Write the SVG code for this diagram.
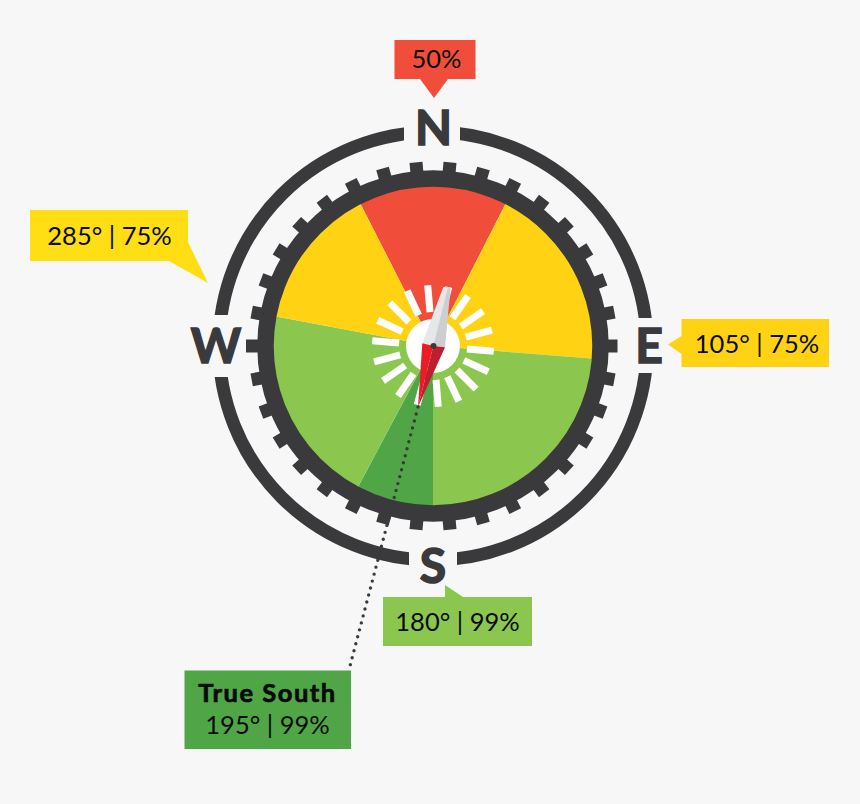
<svg xmlns="http://www.w3.org/2000/svg" xmlns:xlink="http://www.w3.org/1999/xlink" width="860" height="804" viewBox="0 0 860 804">
<style>
.t{font-family:"Lato","Liberation Sans",sans-serif;font-size:25.5px;fill:#0a0a0a;text-anchor:middle}
.b{font-weight:700;stroke:#0a0a0a;stroke-width:.7px;letter-spacing:1.5px}
.c{font-family:"Lato","Liberation Sans",sans-serif;font-weight:700;font-size:48px;fill:#3a3a3c;stroke:#3a3a3c;stroke-width:1.6px;text-anchor:middle}
.tick{fill:#3a3a3c}
.ray{fill:#fff}
</style>
<defs>
<rect id="tk" class="tick" x="426.5" y="161.5" width="13" height="12"/>
<rect id="ry" class="ray" x="429.5" y="285" width="7" height="27"/>
<clipPath id="gaps"><path clip-rule="evenodd" d="M0 0H860V804H0ZM404 90H460V160H404ZM409 530H457V600H409ZM190 315H250V377H190ZM620 318H680V373H620Z"/></clipPath>
</defs>
<rect width="860" height="804" fill="#f7f7f7"/>
<g id="dial">
<path fill="#f04e3b" d="M433 346L358 199A165 165 0 0 1 508 199Z"/>
<path fill="#ffd314" d="M433 346L508 199A165 165 0 0 1 597.5 359Z"/>
<path fill="#8bc74f" d="M433 346L597.5 359A165 165 0 0 1 433 511Z"/>
<path fill="#50a647" d="M433 346L433 511A165 165 0 0 1 355.5 491.7Z"/>
<path fill="#8bc74f" d="M433 346L355.5 491.7A165 165 0 0 1 271 315.4Z"/>
<path fill="#ffd314" d="M433 346L271 315.4A165 165 0 0 1 358 199Z"/>
<circle cx="433" cy="346" r="167.5" fill="none" stroke="#3a3a3c" stroke-width="16.5"/>
<circle cx="433" cy="346" r="214" fill="none" stroke="#3a3a3c" stroke-width="13" clip-path="url(#gaps)"/>
<g id="ticks">
<rect class="tick" x="246" y="339.5" width="14" height="13"/>
<use xlink:href="#tk" transform="rotate(5.29 433 346)"/><use xlink:href="#tk" transform="rotate(15.88 433 346)"/><use xlink:href="#tk" transform="rotate(26.47 433 346)"/><use xlink:href="#tk" transform="rotate(37.06 433 346)"/><use xlink:href="#tk" transform="rotate(47.65 433 346)"/><use xlink:href="#tk" transform="rotate(58.24 433 346)"/><use xlink:href="#tk" transform="rotate(68.82 433 346)"/><use xlink:href="#tk" transform="rotate(79.41 433 346)"/><use xlink:href="#tk" transform="rotate(90 433 346)"/><use xlink:href="#tk" transform="rotate(100.59 433 346)"/><use xlink:href="#tk" transform="rotate(111.18 433 346)"/><use xlink:href="#tk" transform="rotate(121.76 433 346)"/><use xlink:href="#tk" transform="rotate(132.35 433 346)"/><use xlink:href="#tk" transform="rotate(142.94 433 346)"/><use xlink:href="#tk" transform="rotate(153.53 433 346)"/><use xlink:href="#tk" transform="rotate(164.12 433 346)"/><use xlink:href="#tk" transform="rotate(174.71 433 346)"/><use xlink:href="#tk" transform="rotate(185.29 433 346)"/><use xlink:href="#tk" transform="rotate(195.88 433 346)"/><use xlink:href="#tk" transform="rotate(206.47 433 346)"/><use xlink:href="#tk" transform="rotate(217.06 433 346)"/><use xlink:href="#tk" transform="rotate(227.65 433 346)"/><use xlink:href="#tk" transform="rotate(238.24 433 346)"/><use xlink:href="#tk" transform="rotate(248.82 433 346)"/><use xlink:href="#tk" transform="rotate(259.41 433 346)"/><use xlink:href="#tk" transform="rotate(280.59 433 346)"/><use xlink:href="#tk" transform="rotate(291.18 433 346)"/><use xlink:href="#tk" transform="rotate(301.76 433 346)"/><use xlink:href="#tk" transform="rotate(312.35 433 346)"/><use xlink:href="#tk" transform="rotate(322.94 433 346)"/><use xlink:href="#tk" transform="rotate(333.53 433 346)"/><use xlink:href="#tk" transform="rotate(344.12 433 346)"/><use xlink:href="#tk" transform="rotate(354.71 433 346)"/>
</g>
<g id="rays">
<circle cx="433" cy="346" r="27" fill="#fff"/>
<use xlink:href="#ry" transform="rotate(355 433 346)"/><use xlink:href="#ry" transform="rotate(15 433 346)"/><use xlink:href="#ry" transform="rotate(35 433 346)"/><use xlink:href="#ry" transform="rotate(55 433 346)"/><use xlink:href="#ry" transform="rotate(75 433 346)"/><use xlink:href="#ry" transform="rotate(95 433 346)"/><use xlink:href="#ry" transform="rotate(115 433 346)"/><use xlink:href="#ry" transform="rotate(135 433 346)"/><use xlink:href="#ry" transform="rotate(155 433 346)"/><use xlink:href="#ry" transform="rotate(175 433 346)"/><use xlink:href="#ry" transform="rotate(195 433 346)"/><use xlink:href="#ry" transform="rotate(215 433 346)"/><use xlink:href="#ry" transform="rotate(235 433 346)"/><use xlink:href="#ry" transform="rotate(255 433 346)"/><use xlink:href="#ry" transform="rotate(275 433 346)"/><use xlink:href="#ry" transform="rotate(295 433 346)"/><use xlink:href="#ry" transform="rotate(315 433 346)"/><use xlink:href="#ry" transform="rotate(335 433 346)"/>
</g>
</g>
<g id="connectors">
<line x1="418" y1="407" x2="350" y2="666" stroke="#3a3a3c" stroke-width="3.4" stroke-linecap="round" stroke-dasharray="0 7.2"/>
</g>
<g id="needle">
<path fill="#e6e7e8" d="M443.3 287L448 287L435 346L422.3 343.3Z"/>
<path fill="#cdced0" d="M448 287L450.7 287L445 347.3L433.3 346Z"/>
<path fill="#ed1c24" d="M422.3 343.3L433.3 346L418 407Z"/>
<path fill="#be1e2d" d="M433.3 346L445 347.3L418 407Z"/>
<circle cx="433.5" cy="346" r="3" fill="#3a3a3c"/>
</g>
<g id="north"><text class="c" x="433.5" y="144.5">N</text></g>
<g id="west"><text class="c" x="216" y="362.5">W</text></g>
<g id="east"><text class="c" x="649" y="362.5">E</text></g>
<g id="south"><text class="c" x="433" y="582.5">S</text></g>
<g id="callout-n">
<path fill="#f04e3b" d="M394.5 40H475.5V79H448L434 98L420 79H394.5Z"/>
<text class="t" x="436.5" y="68">50%</text>
</g>
<g id="callout-w">
<path fill="#ffde14" d="M30 210H188V242L208 283L169 261H30Z"/>
<text class="t" x="109.5" y="245">285° | 75%</text>
</g>
<g id="callout-e">
<path fill="#ffd314" d="M681.5 319H829V367H681.5V354L668 344.5L681.5 336Z"/>
<text class="t" x="757" y="353">105° | 75%</text>
</g>
<g id="callout-s">
<path fill="#8bc74f" d="M383 597H445V585L463 597H532V646H383Z"/>
<text class="t" x="457.5" y="631">180° | 99%</text>
</g>
<g id="callout-true-south">
<rect x="184.5" y="670.5" width="166.5" height="78.5" fill="#50a647"/>
<text class="t b" x="267.5" y="702">True South</text>
<text class="t" x="267.5" y="734">195° | 99%</text>
</g>
</svg>
